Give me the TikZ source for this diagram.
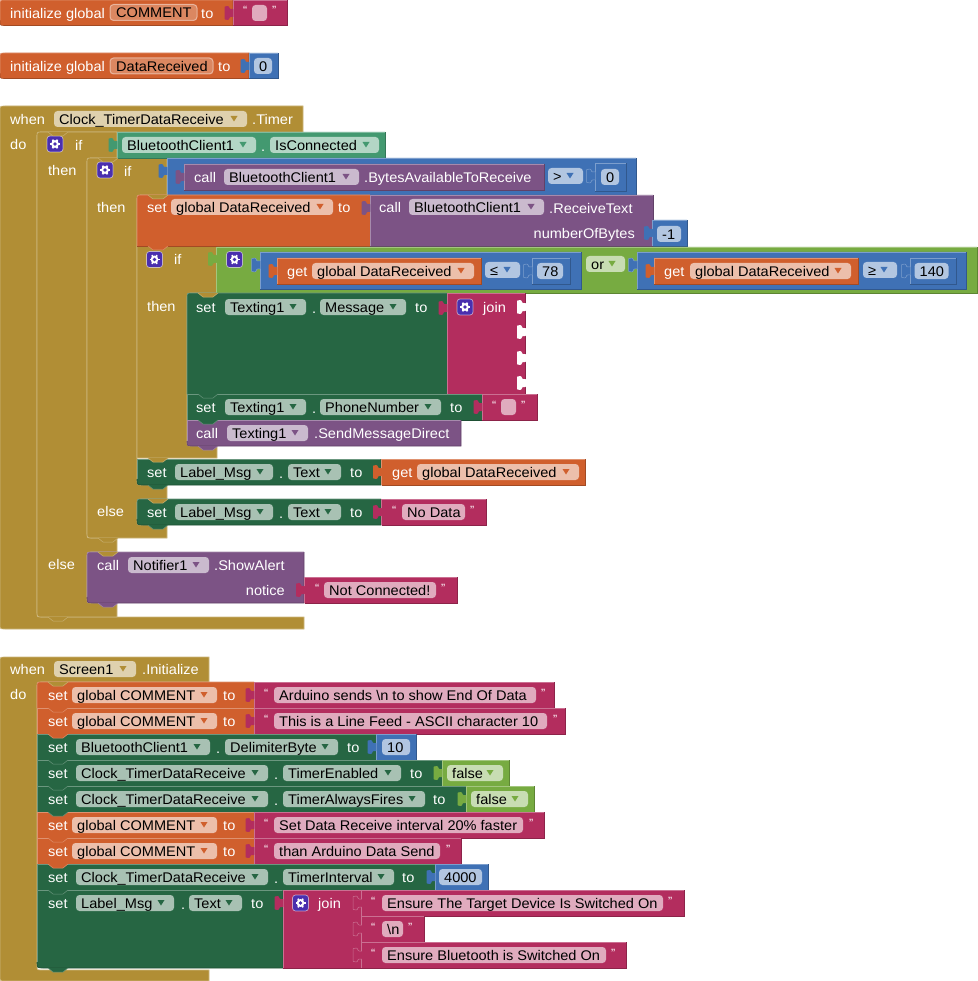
\documentclass[tikz,border=0pt]{standalone}
\usepackage{fontspec}
\setmainfont[FakeStretch=1.04]{Liberation Sans}
\definecolor{cgold}{HTML}{B18E35}
\definecolor{corange}{HTML}{D05F2D}
\definecolor{cmag}{HTML}{B32D5E}
\definecolor{cblue}{HTML}{3F71B5}
\definecolor{cteal}{HTML}{439970}
\definecolor{cdark}{HTML}{266643}
\definecolor{cpurp}{HTML}{7C5385}
\definecolor{cgreen}{HTML}{77AB41}
\definecolor{cind}{HTML}{4A2FAE}
\tikzset{
  x=1pt,y=-1pt,
  lab/.style={text=white,inner sep=0pt,anchor=base west,font=\fontsize{14}{16}\selectfont},
  flab/.style={text=black,inner sep=0pt,anchor=base west,font=\fontsize{14}{16}\selectfont},
  qlab/.style={text=white,inner sep=0pt,anchor=base west,font=\fontsize{12}{12}\selectfont},
  goldedge/.style={fill=cgold,draw=cgold!65!white,line width=.6pt},
}
% block: colour x1 y1 x2 y2 r-top-left r-bottom-left
\newcommand\bk[7]{%
 \fill[#1] (#4,#3) -- ({#2+#6},#3) .. controls (#2,#3) .. (#2,{#3+#6}) -- (#2,{#5-#7}) .. controls (#2,#5) .. ({#2+#7},#5) -- (#4,#5) -- cycle;
 \draw[draw=#1!68!white,line width=.6pt] (#4,#3) -- ({#2+#6},#3) .. controls (#2,#3) .. (#2,{#3+#6}) -- (#2,{#5-#7});
 \draw[draw=#1!78!black,line width=.6pt] (#2,{#5-#7}) .. controls (#2,#5) .. ({#2+#7},#5) -- (#4,#5) -- (#4,#3);
}
% puzzle tab
\newcommand\tb[3]{%
 \fill[#1,shift={(#2,#3)},rounded corners=.6pt] (.4,3) -- (-3,3) -- (-4.5,0) -- (-8.5,.5) -- (-8.5,13.5) -- (-4.5,14) -- (-3,11) -- (.4,11) -- cycle;
}
\newcommand\tbl[3]{%
 \draw[fill=#1,draw=#1!68!white,line width=.5pt,shift={(#2,#3)},rounded corners=.6pt] (.4,3) -- (-3,3) -- (-4.5,0) -- (-8.5,.5) -- (-8.5,13.5) -- (-4.5,14) -- (-3,11) -- (.4,11);
}
% notch bump
\newcommand\bump[3]{%
 \draw[fill=#1,draw=#1!70!white,line width=.5pt] ({#2+11},#3) -- ({#2+16},{#3+4}) -- ({#2+26},{#3+4}) -- ({#2+31},#3);
}
\newcommand\lb[3]{\node[lab] at (#1,{#2+5.5}) {#3};}
\newcommand\lbr[3]{\node[lab,anchor=base east] at (#1,{#2+5.5}) {#3};}
\newcommand\qo[2]{\node[qlab] at (#1,{#2+2}) {“};}
\newcommand\qc[2]{\node[qlab] at (#1,{#2+2}) {”};}
% field without arrow: x1 x2 yc text
\newcommand\fd[4]{%
 \fill[white,fill opacity=.6,rounded corners=3.5pt] (#1,{#3-8}) rectangle (#2,{#3+8});
 \node[flab] at ({#1+5},{#3+5.5}) {#4};
}
% field with arrow: colour x1 x2 yc text
\newcommand\fa[5]{%
 \fill[white,fill opacity=.6,rounded corners=3.5pt] (#2,{#4-8}) rectangle (#3,{#4+8});
 \node[flab] at ({#2+5},{#4+5.5}) {#5};
 \fill[#1] ({#3-16.5},{#4-3}) -- ({#3-9.5},{#4-3}) -- ({#3-13},{#4+2.5}) -- cycle;
}
% name field of a global
\newcommand\fn[3]{%
 \draw[fill=white,fill opacity=.25,draw=white,draw opacity=.45,line width=1pt,rounded corners=3.5pt] (#1,{#3-8}) rectangle (#2,{#3+8});
}
% gear
\newcommand\gr[3]{%
 \draw[fill=#3,draw=white,draw opacity=.55,line width=.7pt,rounded corners=3pt] ({#1-8},{#2-8}) rectangle ({#1+8},{#2+8});
 \foreach \a in {0,60,...,300}{\draw[white,line width=1.7pt] (#1,#2) -- ++(\a:5);}
 \fill[white] (#1,#2) circle (3.9);
 \fill[#3] (#1,#2) circle (1.8);
}
\begin{document}
\begin{tikzpicture}
\useasboundingbox (0,0) rectangle (977,981);
\fill[white] (0,0) rectangle (977,981);

% ---- globals
\bk{corange}{0}{0}{233}{25.5}{5}{5}
\bk{cmag}{233}{0}{287}{25.5}{0}{0}
\tb{cmag}{233}{6}
\lb{10}{13}{initialize global}
\fn{110}{197}{12.5}
\node[flab] at (116,18) {COMMENT};
\lb{201}{13}{to}
\qo{243}{13}\fd{252}{267}{13}{}\qc{272}{13}

\bk{corange}{0}{53}{249}{78.5}{5}{5}
\bk{cblue}{249}{53}{278}{78.5}{0}{0}
\tb{cblue}{249}{59}
\lb{10}{66}{initialize global}
\fn{110}{213}{66}
\node[flab] at (116,71.5) {DataReceived};
\lb{218}{66}{to}
\fd{254}{272}{66}{0}

% ---- when Clock.Timer: gold frames
\draw[goldedge] (303,106) -- (5,106) .. controls (0,106) .. (0,111) -- (0,624) .. controls (0,629) .. (5,629) -- (304,629) -- (304,617) -- (40,617) .. controls (37,617) .. (37,614) -- (37,137) .. controls (37,132) .. (42,132) -- (303,132) -- cycle;
\draw[goldedge] (117,132) -- (42,132) .. controls (37,132) .. (37,137) -- (37,611) .. controls (37,617) .. (43,617) -- (117,617) -- (117,603) -- (90,603) .. controls (87,603) .. (87,600) -- (87,557) .. controls (87,552) .. (92,552) -- (117,552) -- (117,538) -- (90,538) .. controls (87,538) .. (87,535) -- (87,163) .. controls (87,158) .. (92,158) -- (117,158) -- cycle;
\draw[goldedge] (167,158) -- (92,158) .. controls (87,158) .. (87,163) -- (87,532) .. controls (87,538) .. (93,538) -- (167,538) -- (167,525) -- (140,525) .. controls (137,525) .. (137,522) -- (137,504) .. controls (137,499) .. (142,499) -- (167,499) -- (167,485) -- (140,485) .. controls (137,485) .. (137,482) -- (137,200) .. controls (137,195) .. (142,195) -- (167,195) -- cycle;
\draw[goldedge] (217,246) -- (137,246) -- (137,458) -- (217,458) -- (217,446) -- (190,446) .. controls (187,446) .. (187,443) -- (187,298) .. controls (187,293) .. (192,293) -- (217,293) -- cycle;

\lb{10}{119}{when}
\fa{cgold}{54}{247}{119}{Clock\_TimerDataReceive}
\lb{252}{119}{.Timer}
\lb{10}{144}{do}

% if 1
\gr{55}{144}{cind}
\lb{75}{145}{if}
\lb{48}{170}{then}
\lb{48}{564}{else}
\bk{cteal}{117}{132}{385}{158}{0}{0}
\tb{cteal}{117}{138}
\fa{cteal}{122}{256}{145}{BluetoothClient1}
\lb{261}{146}{.}
\fa{cteal}{270}{379}{145}{IsConnected}

% if 2
\gr{105}{170}{cind}
\lb{124}{171}{if}
\lb{97}{207}{then}
\lb{97}{511}{else}
\bk{cblue}{167}{158}{636}{195}{0}{0}
\tb{cblue}{167}{164}
\bk{cpurp}{184}{164}{544}{190}{0}{0}
\tb{cpurp}{184}{170}
\lb{194}{177}{call}
\fa{cpurp}{224}{359}{177}{BluetoothClient1}
\lb{364}{177}{.BytesAvailableToReceive}
\fa{cblue}{548}{583}{176}{>}
\bk{cblue}{595}{163}{626}{191}{0}{0}
\tbl{cblue}{595}{169}
\fd{601}{619}{177}{0}

% set global DataReceived
\bk{corange}{137}{195}{370}{246}{5}{0}
\lb{147}{207}{set}
\fa{corange}{171}{333}{207}{global DataReceived}
\lb{338}{207}{to}
\bk{cpurp}{370}{195}{653}{246}{0}{0}
\tb{cpurp}{370}{201}
\lb{379}{207}{call}
\fa{cpurp}{409}{544}{207}{BluetoothClient1}
\lb{549}{208}{.ReceiveText}
\lbr{635}{233}{numberOfBytes}
\bk{cblue}{652.5}{220}{687}{246}{0}{0}
\tb{cblue}{652.5}{226}
\fd{657}{681}{234}{-1}

% if 3
\gr{154.5}{259.5}{cind}
\lb{174}{259}{if}
\lb{147}{306}{then}
\bk{cgreen}{216.5}{247}{977}{293}{0}{0}
\tb{cgreen}{216.5}{252}
\gr{234.5}{259.5}{cind}
\bk{cblue}{260}{252}{581}{289}{0}{0}
\tbl{cblue}{260}{258}
\bk{corange}{277}{258}{481}{284}{0}{0}
\tb{corange}{277}{264}
\lb{287}{271}{get}
\fa{corange}{312}{474}{271}{global DataReceived}
\fa{cblue}{485}{520}{270}{≤}
\bk{cblue}{532}{258}{570}{284}{0}{0}
\tbl{cblue}{532}{264}
\fd{537}{563}{271}{78}
\fa{cgreen}{586}{625}{264}{or}
\bk{cblue}{637}{252}{966}{289}{0}{0}
\tbl{cblue}{637}{258}
\bk{corange}{654}{258}{858}{284}{0}{0}
\tb{corange}{654}{264}
\lb{664}{271}{get}
\fa{corange}{690}{851}{271}{global DataReceived}
\fa{cblue}{863}{897}{270}{≥}
\bk{cblue}{910}{258}{956}{284}{0}{0}
\tbl{cblue}{910}{264}
\fd{914.5}{948.5}{271}{140}

% set Texting1.Message
\bk{cdark}{187}{293}{447}{394}{5}{0}
\lb{196}{307}{set}
\fa{cdark}{225}{306}{307}{Texting1}
\lb{312}{308}{.}
\fa{cdark}{320}{406}{307}{Message}
\lb{415}{307}{to}
\bk{cmag}{447}{293}{525}{394}{0}{0}
\tb{cmag}{447}{301}
\gr{465}{307}{cind}
\lb{483}{307}{join}
\tb{white}{525.5}{300}
\tb{white}{525.5}{325}
\tb{white}{525.5}{351}
\tb{white}{525.5}{376}

% PhoneNumber
\bk{cdark}{187}{394}{482}{420}{0}{0}
\lb{196}{407}{set}
\fa{cdark}{225}{306}{407}{Texting1}
\lb{312}{408}{.}
\fa{cdark}{320}{441}{407}{PhoneNumber}
\lb{450}{407}{to}
\bk{cmag}{482}{394}{537}{420}{0}{0}
\tb{cmag}{482}{400}
\qo{492}{407}\fd{501}{516}{407}{}\qc{521}{407}

% SendMessageDirect
\bk{cpurp}{187}{420}{461}{446}{0}{5}
\lb{196}{433}{call}
\fa{cpurp}{227}{308}{433}{Texting1}
\lb{314}{433}{.SendMessageDirect}

% set Label_Msg
\bk{cdark}{137}{459}{381}{485}{0}{6}
\lb{147}{472}{set}
\fa{cdark}{175}{273}{472}{Label\_Msg}
\lb{279}{473}{.}
\fa{cdark}{288}{341}{472}{Text}
\lb{350}{472}{to}
\bk{corange}{381.5}{459}{585}{485}{0}{0}
\tb{corange}{381.5}{465}
\lb{392}{472}{get}
\fa{corange}{417}{579}{472}{global DataReceived}

\bk{cdark}{137}{499}{381}{525}{5}{6}
\lb{147}{512}{set}
\fa{cdark}{175}{273}{512}{Label\_Msg}
\lb{279}{513}{.}
\fa{cdark}{288}{341}{512}{Text}
\lb{350}{512}{to}
\bk{cmag}{381.5}{499}{486}{525}{0}{0}
\tb{cmag}{381.5}{505}
\qo{392}{512}\fd{402}{465}{512}{No Data}\qc{470}{512}

% Notifier
\bk{cpurp}{87}{552}{304}{603}{5}{6}
\lb{97}{565}{call}
\fa{cpurp}{128}{209}{565}{Notifier1}
\lb{214}{565}{.ShowAlert}
\lbr{285}{590}{notice}
\bk{cmag}{304.5}{577}{457}{603}{0}{0}
\tb{cmag}{304.5}{583}
\qo{315}{590}\fd{324}{436}{590}{Not Connected!}\qc{441}{590}

% notches
\bump{cgold}{37}{132}
\bump{cgold}{87}{158}
\bump{cgold}{137}{195}
\bump{cgold}{187}{293}
\bump{cgold}{137}{499}
\bump{cgold}{87}{552}
\bump{cgold}{37}{617}
\bump{cgold}{87}{538}
\bump{cgold}{137}{458}
\bump{corange}{137}{246}
\bump{cdark}{187}{394}
\bump{cdark}{187}{420}
\bump{cpurp}{187}{446}
\bump{cdark}{137}{485}
\bump{cdark}{137}{525}
\bump{cpurp}{87}{603}

% ---- when Screen1.Initialize
\draw[goldedge] (209,657) -- (5,657) .. controls (0,657) .. (0,662) -- (0,976) .. controls (0,981) .. (5,981) -- (209,981) -- (209,970) -- (40,970) .. controls (37,970) .. (37,967) -- (37,687) .. controls (37,682) .. (42,682) -- (209,682) -- cycle;
\lb{10}{669}{when}
\fa{cgold}{54}{136}{669}{Screen1}
\lb{142}{669}{.Initialize}
\lb{10}{694}{do}

\bk{corange}{37}{682}{254}{708}{5}{0}
\lb{48}{695}{set}
\fa{corange}{72}{217}{695}{global COMMENT}
\lb{223}{695}{to}
\bk{cmag}{254}{682}{554}{708}{0}{0}
\tb{cmag}{254}{688}
\qo{264}{695}\fd{274}{536}{695}{Arduino sends \textbackslash n to show End Of Data}\qc{541}{695}

\bk{corange}{37}{708}{254}{734}{0}{0}
\lb{48}{721}{set}
\fa{corange}{72}{217}{721}{global COMMENT}
\lb{223}{721}{to}
\bk{cmag}{254}{708}{565}{734}{0}{0}
\tb{cmag}{254}{714}
\qo{264}{721}\fd{274}{547}{721}{This is a Line Feed - ASCII character 10}\qc{553}{721}

\bk{cdark}{37}{734}{376}{760}{0}{0}
\lb{48}{747}{set}
\fa{cdark}{76}{210}{747}{BluetoothClient1}
\lb{216}{748}{.}
\fa{cdark}{225}{338}{747}{DelimiterByte}
\lb{347}{747}{to}
\bk{cblue}{376}{734}{416}{760}{0}{0}
\tb{cblue}{376}{740}
\fd{382}{410}{747}{10}

\bk{cdark}{37}{760}{442}{786}{0}{0}
\lb{48}{773}{set}
\fa{cdark}{76}{268}{773}{Clock\_TimerDataReceive}
\lb{274}{774}{.}
\fa{cdark}{283}{401}{773}{TimerEnabled}
\lb{410}{773}{to}
\bk{cgreen}{442}{760}{509}{786}{0}{0}
\tb{cgreen}{442}{766}
\fa{cgreen}{447}{503}{773}{false}

\bk{cdark}{37}{786}{466}{812}{0}{0}
\lb{48}{799}{set}
\fa{cdark}{76}{268}{799}{Clock\_TimerDataReceive}
\lb{274}{800}{.}
\fa{cdark}{283}{425}{799}{TimerAlwaysFires}
\lb{433}{799}{to}
\bk{cgreen}{466}{786}{534}{812}{0}{0}
\tb{cgreen}{466}{792}
\fa{cgreen}{471}{528}{799}{false}

\bk{corange}{37}{812}{254}{838}{0}{0}
\lb{48}{825}{set}
\fa{corange}{72}{217}{825}{global COMMENT}
\lb{223}{825}{to}
\bk{cmag}{254}{812}{544}{838}{0}{0}
\tb{cmag}{254}{818}
\qo{264}{825}\fd{274}{523}{825}{Set Data Receive interval 20\% faster}\qc{529}{825}

\bk{corange}{37}{838}{254}{864}{0}{0}
\lb{48}{851}{set}
\fa{corange}{72}{217}{851}{global COMMENT}
\lb{223}{851}{to}
\bk{cmag}{254}{838}{461}{864}{0}{0}
\tb{cmag}{254}{844}
\qo{264}{851}\fd{274}{440}{851}{than Arduino Data Send}\qc{446}{851}

\bk{cdark}{37}{864}{435}{890}{0}{0}
\lb{48}{877}{set}
\fa{cdark}{76}{268}{877}{Clock\_TimerDataReceive}
\lb{274}{878}{.}
\fa{cdark}{283}{394}{877}{TimerInterval}
\lb{402}{877}{to}
\bk{cblue}{435}{864}{488}{890}{0}{0}
\tb{cblue}{435}{870}
\fd{439}{482}{877}{4000}

\bk{cdark}{37}{890}{283}{968}{0}{6}
\lb{48}{903}{set}
\fa{cdark}{76}{174}{903}{Label\_Msg}
\lb{181}{904}{.}
\fa{cdark}{189}{242}{903}{Text}
\lb{251}{903}{to}
\bk{cmag}{283}{890}{362}{968}{0}{0}
\tb{cmag}{283}{896}
\gr{300.5}{903}{cind}
\lb{318}{903}{join}
\bk{cmag}{361.5}{890}{684}{916}{0}{0}
\tbl{cmag}{361.5}{896}
\qo{371}{903}\fd{382}{663}{903}{Ensure The Target Device Is Switched On}\qc{668}{903}
\bk{cmag}{361.5}{916}{424}{942}{0}{0}
\tbl{cmag}{361.5}{922}
\qo{371}{929}\fd{382}{403}{929}{\textbackslash n}\qc{408}{929}
\bk{cmag}{361.5}{942}{626}{968}{0}{0}
\tbl{cmag}{361.5}{948}
\qo{371}{955}\fd{382}{606}{955}{Ensure Bluetooth is Switched On}\qc{611}{955}

\bump{cgold}{37}{682}
\bump{corange}{37}{708}
\bump{corange}{37}{734}
\bump{cdark}{37}{760}
\bump{cdark}{37}{786}
\bump{cdark}{37}{812}
\bump{corange}{37}{838}
\bump{corange}{37}{864}
\bump{cdark}{37}{890}
\bump{cdark}{37}{968}
\end{tikzpicture}
\end{document}
